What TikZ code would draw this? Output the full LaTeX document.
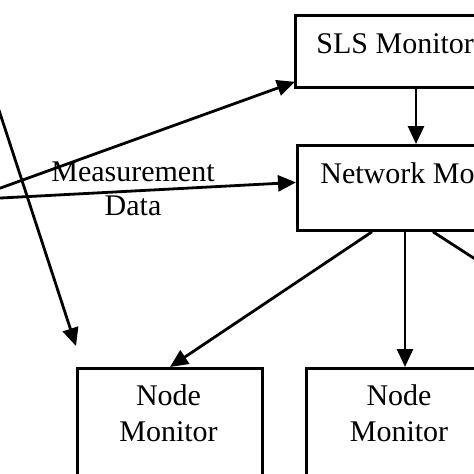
\documentclass[tikz,border=0pt]{standalone}
\usepackage{fontspec}
\setmainfont{Liberation Serif}
\usetikzlibrary{arrows.meta,calc}
\begin{document}
\begin{tikzpicture}[x=1pt,y=-1pt,line width=2.8pt,
  box/.style={draw,line width=2.8pt,inner sep=0pt,anchor=north west},
  lbl/.style={font=\fontsize{30}{36}\selectfont,inner sep=0pt,align=center},
  arr/.style={-{Triangle[length=18pt,width=16pt]}}]
\useasboundingbox (0,0) rectangle (474,474);
\clip (0,0) rectangle (474,474);
\node[box,minimum width=201pt,minimum height=72pt] (sls) at (294,14) {};
\node[box,minimum width=276pt,minimum height=85pt] (net) at (296,144) {};
\node[box,minimum width=185pt,minimum height=120pt] (nm1) at (76,367) {};
\node[box,minimum width=188pt,minimum height=120pt] (nm2) at (305,367) {};
\node[lbl,anchor=base west] (slst) at (315,53) {SLS Monitor};
\node[lbl,anchor=base west] (nett) at (319,183) {Network Monitor};
\node[lbl,anchor=base] (nm1a) at (168.5,405) {Node};
\node[lbl,anchor=base] (nm1b) at (168.5,441) {Monitor};
\node[lbl,anchor=base] (nm2a) at (399,405) {Node};
\node[lbl,anchor=base] (nm2b) at (399,441) {Monitor};
\node[lbl,anchor=base] (md1) at (133,181) {Measurement};
\node[lbl,anchor=base] (md2) at (133,215) {Data};
% free ends
\coordinate (s1) at (-20,195.4);
\coordinate (s2) at (-20,199.1);
\coordinate (s3) at (-4,101);
\coordinate (t1) at ($(sls.south west)+(1,-7)$);
\coordinate (t2) at ($(net.west)+(0,-5.5)$);
\coordinate (t3) at ($(nm1.north west)+(0,-21)$);
\coordinate (e4) at (520,288);
\draw[arr] (s1) -- (t1);
\draw[arr] (s2) -- (t2);
\draw[arr] (s3) -- (t3);
\draw[arr] (sls.south -| 416,0) -- (net.north -| 416,0);
\draw[arr] (net.south -| 372,0) -- (nm1.north -| 170,0);
\draw[arr] (net.south -| 405,0) -- (nm2.north -| 405,0);
\draw (net.south -| 433,0) -- (e4);
\end{tikzpicture}
\end{document}
